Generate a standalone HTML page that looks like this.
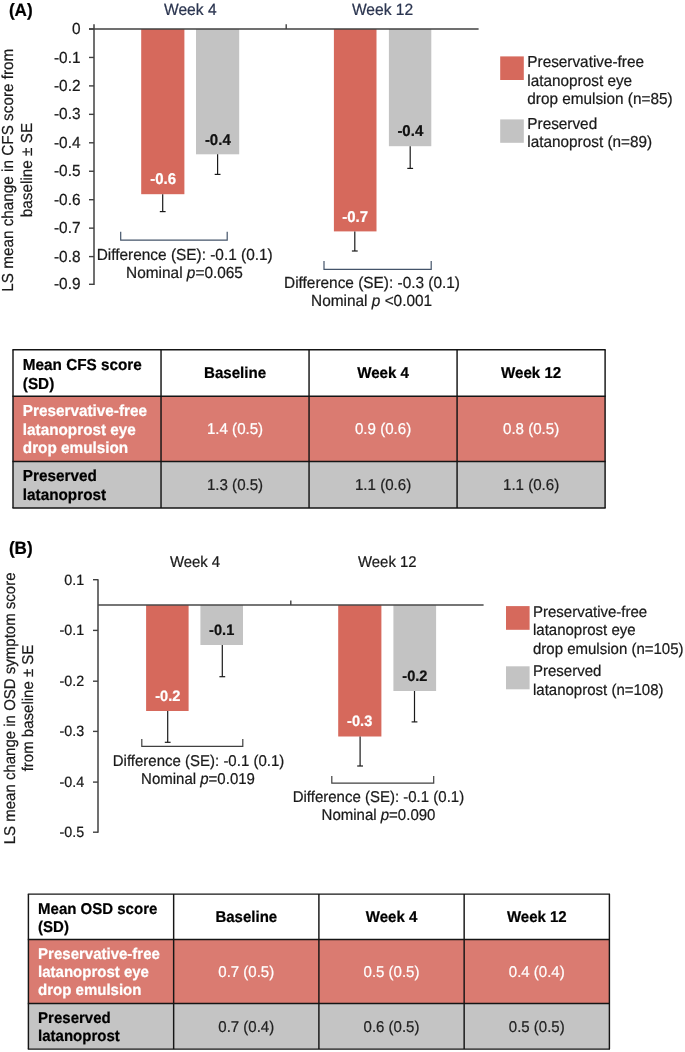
<!DOCTYPE html>
<html lang="en"><head><meta charset="utf-8"><title>Figure</title>
<style>
html,body{margin:0;padding:0;background:#fff;}
svg{display:block;font-family:"Liberation Sans", sans-serif;}
svg text{white-space:pre;text-rendering:geometricPrecision;stroke-width:0.22px;}
</style></head>
<body>
<svg width="685" height="1052" viewBox="0 0 685 1052">
<rect x="0" y="0" width="685" height="1052" fill="#ffffff"/>
<text transform="translate(8.9,16.0) scale(1,1.04)" font-size="17.1" text-anchor="start" font-weight="bold" fill="#000" stroke="#000">(A)</text>
<text transform="translate(13.0,291.8) rotate(-90) scale(1,1.04)" font-size="15.3" fill="#1a1a1a" stroke="#1a1a1a">LS mean change in CFS score from</text>
<text transform="translate(31.7,170.0) rotate(-90) scale(1,1.04)" font-size="15.3" text-anchor="middle" fill="#1a1a1a" stroke="#1a1a1a">baseline ± SE</text>
<rect x="141.2" y="29.0" width="43.2" height="165.2" fill="#D6695C"/>
<rect x="196.0" y="29.0" width="43.2" height="125.30000000000001" fill="#C3C3C3"/>
<rect x="333.9" y="29.0" width="42.6" height="202.4" fill="#D6695C"/>
<rect x="388.9" y="29.0" width="42.4" height="117.19999999999999" fill="#C3C3C3"/>
<line x1="94.0" y1="24.2" x2="94.0" y2="284.9" stroke="#404040" stroke-width="1.5"/>
<line x1="89.0" y1="29.0" x2="478.6" y2="29.0" stroke="#404040" stroke-width="1.5"/>
<line x1="89.0" y1="29.0" x2="94.0" y2="29.0" stroke="#404040" stroke-width="1.4"/>
<text transform="translate(80.5,34.1) scale(1,1.04)" font-size="15.4" text-anchor="end" font-weight="normal" fill="#1a1a1a" stroke="#1a1a1a">0</text>
<line x1="89.0" y1="57.45" x2="94.0" y2="57.45" stroke="#404040" stroke-width="1.4"/>
<text transform="translate(80.5,62.55) scale(1,1.04)" font-size="15.4" text-anchor="end" font-weight="normal" fill="#1a1a1a" stroke="#1a1a1a">-0.1</text>
<line x1="89.0" y1="85.9" x2="94.0" y2="85.9" stroke="#404040" stroke-width="1.4"/>
<text transform="translate(80.5,91.0) scale(1,1.04)" font-size="15.4" text-anchor="end" font-weight="normal" fill="#1a1a1a" stroke="#1a1a1a">-0.2</text>
<line x1="89.0" y1="114.35" x2="94.0" y2="114.35" stroke="#404040" stroke-width="1.4"/>
<text transform="translate(80.5,119.45) scale(1,1.04)" font-size="15.4" text-anchor="end" font-weight="normal" fill="#1a1a1a" stroke="#1a1a1a">-0.3</text>
<line x1="89.0" y1="142.8" x2="94.0" y2="142.8" stroke="#404040" stroke-width="1.4"/>
<text transform="translate(80.5,147.9) scale(1,1.04)" font-size="15.4" text-anchor="end" font-weight="normal" fill="#1a1a1a" stroke="#1a1a1a">-0.4</text>
<line x1="89.0" y1="171.25" x2="94.0" y2="171.25" stroke="#404040" stroke-width="1.4"/>
<text transform="translate(80.5,176.35) scale(1,1.04)" font-size="15.4" text-anchor="end" font-weight="normal" fill="#1a1a1a" stroke="#1a1a1a">-0.5</text>
<line x1="89.0" y1="199.7" x2="94.0" y2="199.7" stroke="#404040" stroke-width="1.4"/>
<text transform="translate(80.5,204.8) scale(1,1.04)" font-size="15.4" text-anchor="end" font-weight="normal" fill="#1a1a1a" stroke="#1a1a1a">-0.6</text>
<line x1="89.0" y1="228.15" x2="94.0" y2="228.15" stroke="#404040" stroke-width="1.4"/>
<text transform="translate(80.5,233.25) scale(1,1.04)" font-size="15.4" text-anchor="end" font-weight="normal" fill="#1a1a1a" stroke="#1a1a1a">-0.7</text>
<line x1="89.0" y1="256.6" x2="94.0" y2="256.6" stroke="#404040" stroke-width="1.4"/>
<text transform="translate(80.5,261.7) scale(1,1.04)" font-size="15.4" text-anchor="end" font-weight="normal" fill="#1a1a1a" stroke="#1a1a1a">-0.8</text>
<line x1="89.0" y1="284.3" x2="94.0" y2="284.3" stroke="#404040" stroke-width="1.4"/>
<text transform="translate(80.5,289.4) scale(1,1.04)" font-size="15.4" text-anchor="end" font-weight="normal" fill="#1a1a1a" stroke="#1a1a1a">-0.9</text>
<line x1="286.2" y1="24.2" x2="286.2" y2="29.0" stroke="#404040" stroke-width="1.4"/>
<text transform="translate(190.3,15) scale(1,1.04)" font-size="15.6" text-anchor="middle" font-weight="normal" fill="#2b3550" stroke="#2b3550">Week 4</text>
<text transform="translate(382.5,15) scale(1,1.04)" font-size="15.6" text-anchor="middle" font-weight="normal" fill="#2b3550" stroke="#2b3550">Week 12</text>
<line x1="162.7" y1="194.2" x2="162.7" y2="211.6" stroke="#1a1a1a" stroke-width="1.2"/>
<line x1="159.79999999999998" y1="211.6" x2="165.6" y2="211.6" stroke="#1a1a1a" stroke-width="1.2"/>
<line x1="217.6" y1="154.3" x2="217.6" y2="174.4" stroke="#1a1a1a" stroke-width="1.2"/>
<line x1="214.7" y1="174.4" x2="220.5" y2="174.4" stroke="#1a1a1a" stroke-width="1.2"/>
<line x1="354.8" y1="231.4" x2="354.8" y2="251.0" stroke="#1a1a1a" stroke-width="1.2"/>
<line x1="351.90000000000003" y1="251.0" x2="357.7" y2="251.0" stroke="#1a1a1a" stroke-width="1.2"/>
<line x1="410.2" y1="146.2" x2="410.2" y2="168.4" stroke="#1a1a1a" stroke-width="1.2"/>
<line x1="407.3" y1="168.4" x2="413.09999999999997" y2="168.4" stroke="#1a1a1a" stroke-width="1.2"/>
<text transform="translate(163.2,184.2) scale(1,1.04)" font-size="15" text-anchor="middle" font-weight="bold" fill="#fff" stroke="#fff">-0.6</text>
<text transform="translate(217.8,144.5) scale(1,1.04)" font-size="15" text-anchor="middle" font-weight="bold" fill="#111" stroke="#111">-0.4</text>
<text transform="translate(355.2,221.5) scale(1,1.04)" font-size="15" text-anchor="middle" font-weight="bold" fill="#fff" stroke="#fff">-0.7</text>
<text transform="translate(410.3,136.3) scale(1,1.04)" font-size="15" text-anchor="middle" font-weight="bold" fill="#111" stroke="#111">-0.4</text>
<polyline points="120.7,231.7 120.7,240.2 227.2,240.2 227.2,231.7" fill="none" stroke="#44546A" stroke-width="1.2"/>
<polyline points="324,261 324,269.3 431.2,269.3 431.2,261" fill="none" stroke="#44546A" stroke-width="1.2"/>
<text transform="translate(184.7,259.5) scale(1,1.04)" font-size="15.4" text-anchor="middle" font-weight="normal" fill="#1a1a1a" stroke="#1a1a1a">Difference (SE): -0.1 (0.1)</text>
<text transform="translate(184.5,278.0) scale(1,1.04)" font-size="15.4" text-anchor="middle" font-weight="normal" fill="#1a1a1a" stroke="#1a1a1a">Nominal <tspan font-style="italic">p</tspan>=0.065</text>
<text transform="translate(372,287.5) scale(1,1.04)" font-size="15.4" text-anchor="middle" font-weight="normal" fill="#1a1a1a" stroke="#1a1a1a">Difference (SE): -0.3 (0.1)</text>
<text transform="translate(371.6,305.7) scale(1,1.04)" font-size="15.4" text-anchor="middle" font-weight="normal" fill="#1a1a1a" stroke="#1a1a1a">Nominal <tspan font-style="italic">p</tspan> &lt;0.001</text>
<rect x="500.2" y="56.4" width="23.6" height="23.6" fill="#D6695C"/>
<rect x="500.2" y="119.4" width="23.6" height="23.4" fill="#C3C3C3"/>
<text transform="translate(527.3,67.1) scale(1,1.04)" font-size="15.33" text-anchor="start" font-weight="normal" fill="#1a1a1a" stroke="#1a1a1a">Preservative-free</text>
<text transform="translate(527.3,85.6) scale(1,1.04)" font-size="15.33" text-anchor="start" font-weight="normal" fill="#1a1a1a" stroke="#1a1a1a">latanoprost eye</text>
<text transform="translate(527.3,104.1) scale(1,1.04)" font-size="15.33" text-anchor="start" font-weight="normal" fill="#1a1a1a" stroke="#1a1a1a">drop emulsion (n=85)</text>
<text transform="translate(527.3,129) scale(1,1.04)" font-size="15.33" text-anchor="start" font-weight="normal" fill="#1a1a1a" stroke="#1a1a1a">Preserved</text>
<text transform="translate(527.3,147.4) scale(1,1.04)" font-size="15.33" text-anchor="start" font-weight="normal" fill="#1a1a1a" stroke="#1a1a1a">latanoprost (n=89)</text>
<rect x="13" y="349.65" width="592.1" height="46.650000000000034" fill="#fff"/>
<rect x="13" y="396.3" width="592.1" height="65.09999999999997" fill="#DA7B71"/>
<rect x="13" y="461.4" width="592.1" height="46.60000000000002" fill="#C4C4C4"/>
<line x1="12.4" y1="349.65" x2="605.7" y2="349.65" stroke="#151515" stroke-width="1.45"/>
<line x1="12.4" y1="396.3" x2="605.7" y2="396.3" stroke="#151515" stroke-width="1.45"/>
<line x1="12.4" y1="461.4" x2="605.7" y2="461.4" stroke="#151515" stroke-width="1.45"/>
<line x1="12.4" y1="508.0" x2="605.7" y2="508.0" stroke="#151515" stroke-width="1.45"/>
<line x1="13" y1="349.65" x2="13" y2="508.0" stroke="#151515" stroke-width="1.45"/>
<line x1="161.03" y1="349.65" x2="161.03" y2="508.0" stroke="#151515" stroke-width="1.45"/>
<line x1="309.05" y1="349.65" x2="309.05" y2="508.0" stroke="#151515" stroke-width="1.45"/>
<line x1="457.08" y1="349.65" x2="457.08" y2="508.0" stroke="#151515" stroke-width="1.45"/>
<line x1="605.1" y1="349.65" x2="605.1" y2="508.0" stroke="#151515" stroke-width="1.45"/>
<text transform="translate(22.8,369.6) scale(1,1.04)" font-size="15.3" text-anchor="start" font-weight="bold" fill="#000" stroke="#000">Mean CFS score</text>
<text transform="translate(22.8,388.6) scale(1,1.04)" font-size="15.3" text-anchor="start" font-weight="bold" fill="#000" stroke="#000">(SD)</text>
<text transform="translate(235.04000000000002,378) scale(1,1.04)" font-size="15.1" text-anchor="middle" font-weight="bold" fill="#000" stroke="#000">Baseline</text>
<text transform="translate(383.065,378) scale(1,1.04)" font-size="15.1" text-anchor="middle" font-weight="bold" fill="#000" stroke="#000">Week 4</text>
<text transform="translate(531.09,378) scale(1,1.04)" font-size="15.1" text-anchor="middle" font-weight="bold" fill="#000" stroke="#000">Week 12</text>
<text transform="translate(22.8,416) scale(1,1.04)" font-size="15.3" text-anchor="start" font-weight="bold" fill="#fff" stroke="#fff">Preservative-free</text>
<text transform="translate(22.8,435) scale(1,1.04)" font-size="15.3" text-anchor="start" font-weight="bold" fill="#fff" stroke="#fff">latanoprost eye</text>
<text transform="translate(22.8,453) scale(1,1.04)" font-size="15.3" text-anchor="start" font-weight="bold" fill="#fff" stroke="#fff">drop emulsion</text>
<text transform="translate(235.04000000000002,434.3) scale(1,1.04)" font-size="15.1" text-anchor="middle" font-weight="normal" fill="#fff" stroke="#fff">1.4 (0.5)</text>
<text transform="translate(383.065,434.3) scale(1,1.04)" font-size="15.1" text-anchor="middle" font-weight="normal" fill="#fff" stroke="#fff">0.9 (0.6)</text>
<text transform="translate(531.09,434.3) scale(1,1.04)" font-size="15.1" text-anchor="middle" font-weight="normal" fill="#fff" stroke="#fff">0.8 (0.5)</text>
<text transform="translate(22.8,481) scale(1,1.04)" font-size="15.3" text-anchor="start" font-weight="bold" fill="#000" stroke="#000">Preserved</text>
<text transform="translate(22.8,500) scale(1,1.04)" font-size="15.3" text-anchor="start" font-weight="bold" fill="#000" stroke="#000">latanoprost</text>
<text transform="translate(235.04000000000002,490.4) scale(1,1.04)" font-size="15.1" text-anchor="middle" font-weight="normal" fill="#222" stroke="#222">1.3 (0.5)</text>
<text transform="translate(383.065,490.4) scale(1,1.04)" font-size="15.1" text-anchor="middle" font-weight="normal" fill="#222" stroke="#222">1.1 (0.6)</text>
<text transform="translate(531.09,490.4) scale(1,1.04)" font-size="15.1" text-anchor="middle" font-weight="normal" fill="#222" stroke="#222">1.1 (0.6)</text>
<text transform="translate(8.9,554.2) scale(1,1.04)" font-size="17.1" text-anchor="start" font-weight="bold" fill="#000" stroke="#000">(B)</text>
<text transform="translate(14.5,844.3) rotate(-90) scale(1,1.04)" font-size="15.0" fill="#1a1a1a" stroke="#1a1a1a">LS mean change in OSD symptom score</text>
<text transform="translate(33,708) rotate(-90) scale(1,1.04)" font-size="15.0" text-anchor="middle" fill="#1a1a1a" stroke="#1a1a1a">from baseline ± SE</text>
<rect x="146.1" y="605.0" width="42.5" height="106.0" fill="#D6695C"/>
<rect x="200.4" y="605.0" width="42.6" height="40.0" fill="#C3C3C3"/>
<rect x="338.2" y="605.0" width="43.2" height="131.5" fill="#D6695C"/>
<rect x="393.4" y="605.0" width="42.7" height="86.0" fill="#C3C3C3"/>
<line x1="98.0" y1="579.2" x2="98.0" y2="832.8" stroke="#404040" stroke-width="1.5"/>
<line x1="98.0" y1="605.0" x2="483.6" y2="605.0" stroke="#484848" stroke-width="1.5"/>
<line x1="93.0" y1="579.7" x2="98.0" y2="579.7" stroke="#404040" stroke-width="1.4"/>
<text transform="translate(84.2,584.6) scale(1,1.04)" font-size="14.3" text-anchor="end" font-weight="normal" fill="#1a1a1a" stroke="#1a1a1a">0.1</text>
<line x1="93.0" y1="630.4" x2="98.0" y2="630.4" stroke="#404040" stroke-width="1.4"/>
<text transform="translate(84.2,635.3) scale(1,1.04)" font-size="14.3" text-anchor="end" font-weight="normal" fill="#1a1a1a" stroke="#1a1a1a">-0.1</text>
<line x1="93.0" y1="681.2" x2="98.0" y2="681.2" stroke="#404040" stroke-width="1.4"/>
<text transform="translate(84.2,686.1) scale(1,1.04)" font-size="14.3" text-anchor="end" font-weight="normal" fill="#1a1a1a" stroke="#1a1a1a">-0.2</text>
<line x1="93.0" y1="731.4" x2="98.0" y2="731.4" stroke="#404040" stroke-width="1.4"/>
<text transform="translate(84.2,736.3) scale(1,1.04)" font-size="14.3" text-anchor="end" font-weight="normal" fill="#1a1a1a" stroke="#1a1a1a">-0.3</text>
<line x1="93.0" y1="782.1" x2="98.0" y2="782.1" stroke="#404040" stroke-width="1.4"/>
<text transform="translate(84.2,787.0) scale(1,1.04)" font-size="14.3" text-anchor="end" font-weight="normal" fill="#1a1a1a" stroke="#1a1a1a">-0.4</text>
<line x1="93.0" y1="832.2" x2="98.0" y2="832.2" stroke="#404040" stroke-width="1.4"/>
<text transform="translate(84.2,837.1) scale(1,1.04)" font-size="14.3" text-anchor="end" font-weight="normal" fill="#1a1a1a" stroke="#1a1a1a">-0.5</text>
<line x1="290.8" y1="600.6" x2="290.8" y2="605.0" stroke="#404040" stroke-width="1.4"/>
<text transform="translate(195,567.2) scale(1,1.04)" font-size="14.9" text-anchor="middle" font-weight="normal" fill="#1a1a1a" stroke="#1a1a1a">Week 4</text>
<text transform="translate(387.3,567.2) scale(1,1.04)" font-size="14.9" text-anchor="middle" font-weight="normal" fill="#1a1a1a" stroke="#1a1a1a">Week 12</text>
<line x1="167.7" y1="711" x2="167.7" y2="742.3" stroke="#1a1a1a" stroke-width="1.2"/>
<line x1="164.79999999999998" y1="742.3" x2="170.6" y2="742.3" stroke="#1a1a1a" stroke-width="1.2"/>
<line x1="222.3" y1="645" x2="222.3" y2="676.7" stroke="#1a1a1a" stroke-width="1.2"/>
<line x1="219.4" y1="676.7" x2="225.20000000000002" y2="676.7" stroke="#1a1a1a" stroke-width="1.2"/>
<line x1="360.1" y1="736.5" x2="360.1" y2="766" stroke="#1a1a1a" stroke-width="1.2"/>
<line x1="357.20000000000005" y1="766" x2="363.0" y2="766" stroke="#1a1a1a" stroke-width="1.2"/>
<line x1="414.5" y1="691" x2="414.5" y2="721.9" stroke="#1a1a1a" stroke-width="1.2"/>
<line x1="411.6" y1="721.9" x2="417.4" y2="721.9" stroke="#1a1a1a" stroke-width="1.2"/>
<text transform="translate(167.8,701.2) scale(1,1.04)" font-size="14.6" text-anchor="middle" font-weight="bold" fill="#fff" stroke="#fff">-0.2</text>
<text transform="translate(221.7,634.9) scale(1,1.04)" font-size="14.6" text-anchor="middle" font-weight="bold" fill="#111" stroke="#111">-0.1</text>
<text transform="translate(359.7,726) scale(1,1.04)" font-size="14.6" text-anchor="middle" font-weight="bold" fill="#fff" stroke="#fff">-0.3</text>
<text transform="translate(414.9,681) scale(1,1.04)" font-size="14.6" text-anchor="middle" font-weight="bold" fill="#111" stroke="#111">-0.2</text>
<polyline points="141.8,739 141.8,746.3 242.8,746.3 242.8,739" fill="none" stroke="#404040" stroke-width="1.2"/>
<polyline points="331.8,775.9 331.8,783.2 433.7,783.2 433.7,775.9" fill="none" stroke="#404040" stroke-width="1.2"/>
<text transform="translate(198.5,766) scale(1,1.04)" font-size="15.0" text-anchor="middle" font-weight="normal" fill="#1a1a1a" stroke="#1a1a1a">Difference (SE): -0.1 (0.1)</text>
<text transform="translate(198,784) scale(1,1.04)" font-size="15.0" text-anchor="middle" font-weight="normal" fill="#1a1a1a" stroke="#1a1a1a">Nominal <tspan font-style="italic">p</tspan>=0.019</text>
<text transform="translate(378.4,801.9) scale(1,1.04)" font-size="15.0" text-anchor="middle" font-weight="normal" fill="#1a1a1a" stroke="#1a1a1a">Difference (SE): -0.1 (0.1)</text>
<text transform="translate(378.5,819.8) scale(1,1.04)" font-size="15.0" text-anchor="middle" font-weight="normal" fill="#1a1a1a" stroke="#1a1a1a">Nominal <tspan font-style="italic">p</tspan>=0.090</text>
<rect x="506" y="606.1" width="23.6" height="23.7" fill="#D6695C"/>
<rect x="506" y="666.3" width="23.6" height="23" fill="#C3C3C3"/>
<text transform="translate(533.0,616.9) scale(1,1.04)" font-size="15.0" text-anchor="start" font-weight="normal" fill="#1a1a1a" stroke="#1a1a1a">Preservative-free</text>
<text transform="translate(533.0,635.3) scale(1,1.04)" font-size="15.0" text-anchor="start" font-weight="normal" fill="#1a1a1a" stroke="#1a1a1a">latanoprost eye</text>
<text transform="translate(533.0,653.6) scale(1,1.04)" font-size="15.0" text-anchor="start" font-weight="normal" fill="#1a1a1a" stroke="#1a1a1a">drop emulsion (n=105)</text>
<text transform="translate(533.0,676.1) scale(1,1.04)" font-size="15.0" text-anchor="start" font-weight="normal" fill="#1a1a1a" stroke="#1a1a1a">Preserved</text>
<text transform="translate(533.0,694.5) scale(1,1.04)" font-size="15.0" text-anchor="start" font-weight="normal" fill="#1a1a1a" stroke="#1a1a1a">latanoprost (n=108)</text>
<rect x="28.4" y="894.1" width="581.0" height="45.39999999999998" fill="#fff"/>
<rect x="28.4" y="939.5" width="581.0" height="64.0" fill="#DA7B71"/>
<rect x="28.4" y="1003.5" width="581.0" height="45.59999999999991" fill="#C4C4C4"/>
<line x1="27.799999999999997" y1="894.1" x2="610.0" y2="894.1" stroke="#151515" stroke-width="1.45"/>
<line x1="27.799999999999997" y1="939.5" x2="610.0" y2="939.5" stroke="#151515" stroke-width="1.45"/>
<line x1="27.799999999999997" y1="1003.5" x2="610.0" y2="1003.5" stroke="#151515" stroke-width="1.45"/>
<line x1="27.799999999999997" y1="1049.1" x2="610.0" y2="1049.1" stroke="#151515" stroke-width="1.45"/>
<line x1="28.4" y1="894.1" x2="28.4" y2="1049.1" stroke="#151515" stroke-width="1.45"/>
<line x1="173.65" y1="894.1" x2="173.65" y2="1049.1" stroke="#151515" stroke-width="1.45"/>
<line x1="318.9" y1="894.1" x2="318.9" y2="1049.1" stroke="#151515" stroke-width="1.45"/>
<line x1="464.15" y1="894.1" x2="464.15" y2="1049.1" stroke="#151515" stroke-width="1.45"/>
<line x1="609.4" y1="894.1" x2="609.4" y2="1049.1" stroke="#151515" stroke-width="1.45"/>
<text transform="translate(38.1,913.6) scale(1,1.04)" font-size="15" text-anchor="start" font-weight="bold" fill="#000" stroke="#000">Mean OSD score</text>
<text transform="translate(38.1,931.7) scale(1,1.04)" font-size="15" text-anchor="start" font-weight="bold" fill="#000" stroke="#000">(SD)</text>
<text transform="translate(246.27499999999998,921.8) scale(1,1.04)" font-size="15" text-anchor="middle" font-weight="bold" fill="#000" stroke="#000">Baseline</text>
<text transform="translate(391.525,921.8) scale(1,1.04)" font-size="15" text-anchor="middle" font-weight="bold" fill="#000" stroke="#000">Week 4</text>
<text transform="translate(536.775,921.8) scale(1,1.04)" font-size="15" text-anchor="middle" font-weight="bold" fill="#000" stroke="#000">Week 12</text>
<text transform="translate(38.1,958.8) scale(1,1.04)" font-size="15" text-anchor="start" font-weight="bold" fill="#fff" stroke="#fff">Preservative-free</text>
<text transform="translate(38.1,977.2) scale(1,1.04)" font-size="15" text-anchor="start" font-weight="bold" fill="#fff" stroke="#fff">latanoprost eye</text>
<text transform="translate(38.1,995.3) scale(1,1.04)" font-size="15" text-anchor="start" font-weight="bold" fill="#fff" stroke="#fff">drop emulsion</text>
<text transform="translate(246.27499999999998,977) scale(1,1.04)" font-size="15" text-anchor="middle" font-weight="normal" fill="#fff" stroke="#fff">0.7 (0.5)</text>
<text transform="translate(391.525,977) scale(1,1.04)" font-size="15" text-anchor="middle" font-weight="normal" fill="#fff" stroke="#fff">0.5 (0.5)</text>
<text transform="translate(536.775,977) scale(1,1.04)" font-size="15" text-anchor="middle" font-weight="normal" fill="#fff" stroke="#fff">0.4 (0.4)</text>
<text transform="translate(38.1,1022.5) scale(1,1.04)" font-size="15" text-anchor="start" font-weight="bold" fill="#000" stroke="#000">Preserved</text>
<text transform="translate(38.1,1040.6) scale(1,1.04)" font-size="15" text-anchor="start" font-weight="bold" fill="#000" stroke="#000">latanoprost</text>
<text transform="translate(246.27499999999998,1031.8) scale(1,1.04)" font-size="15" text-anchor="middle" font-weight="normal" fill="#222" stroke="#222">0.7 (0.4)</text>
<text transform="translate(391.525,1031.8) scale(1,1.04)" font-size="15" text-anchor="middle" font-weight="normal" fill="#222" stroke="#222">0.6 (0.5)</text>
<text transform="translate(536.775,1031.8) scale(1,1.04)" font-size="15" text-anchor="middle" font-weight="normal" fill="#222" stroke="#222">0.5 (0.5)</text>
</svg>
</body></html>
